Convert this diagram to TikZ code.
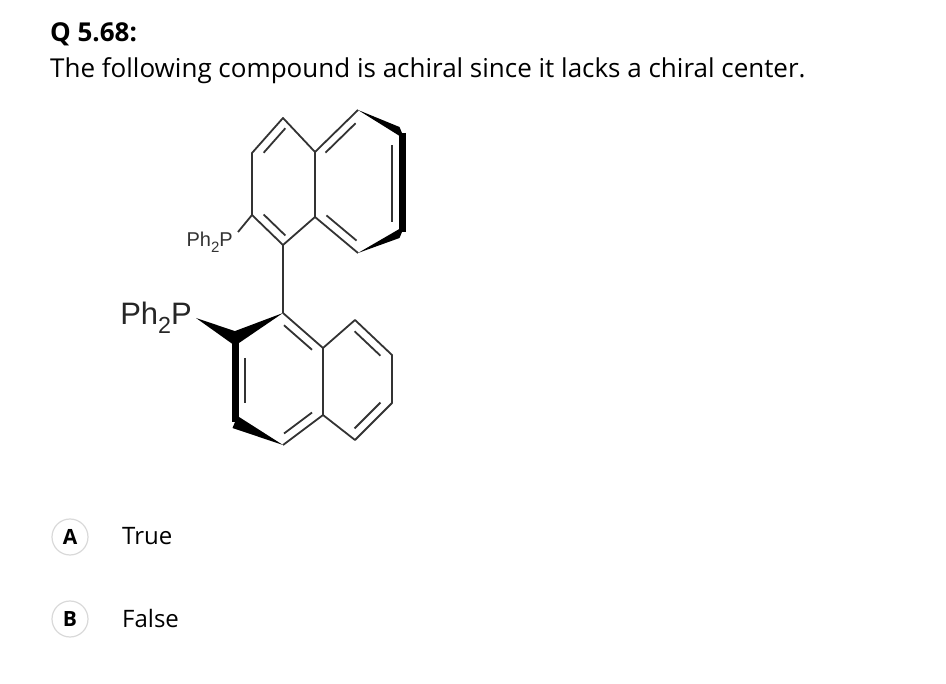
\documentclass[tikz,border=0pt]{standalone}
\usepackage{fontspec}
\usetikzlibrary{calc}
\setmainfont{Open Sans}
\newfontfamily\arialf{Liberation Sans}
\newcommand{\subtwo}{\raisebox{-0.3em}{\scalebox{0.75}{2}}}
\begin{document}
\begin{tikzpicture}[x=1pt,y=-1pt,
  bond/.style={line width=1.8pt,color=black!80,line join=round},
  boldb/.style={line width=7pt,line cap=butt},
  opt/.style={circle,draw=black!15,line width=1.2pt,minimum size=36pt,inner sep=0pt,font=\bfseries\fontsize{21}{24}\selectfont},
  lbl/.style={anchor=base west,inner sep=0pt}]
\useasboundingbox (0,0) rectangle (946,684);
\node[lbl,font=\bfseries\fontsize{26}{30}\selectfont] (q) at (50,42) {Q 5.68:};
\node[lbl,font=\fontsize{26}{30}\selectfont] (t) at (50,78) {The following compound is achiral since it lacks a chiral center.};
% top naphthalene
\coordinate (a1) at (283,118); \coordinate (a2) at (252,153); \coordinate (a3) at (252,215);
\coordinate (a4) at (283,245); \coordinate (a5) at (315,217); \coordinate (a6) at (315,152);
\coordinate (b1) at (358,110); \coordinate (b2) at (402,133); \coordinate (b3) at (402,232);
\coordinate (b4) at (358,253);
% bottom naphthalene
\coordinate (c1) at (283,313); \coordinate (c2) at (235,338); \coordinate (c3) at (235,422);
\coordinate (c4) at (283,445); \coordinate (c5) at (323,415); \coordinate (c6) at (323,348);
\coordinate (d1) at (355,320); \coordinate (d2) at (392,355); \coordinate (d3) at (392,403);
\coordinate (d4) at (355,440);
\coordinate (pb) at (196,318); \coordinate (ps) at (238,232);
% plain bonds
\draw[bond] (a1)--(a2)--(a3)--(a4)--(a5)--(a6)--cycle;
\draw[bond] (a6)--(b1); \draw[bond] (a5)--(b4);
\draw[bond] (a4)--(c1);
\draw[bond] (a3)--(ps);
\draw[bond] (c4)--(c5)--(c6)--(c1);
\draw[bond] (c6)--(d1)--(d2)--(d3)--(d4)--(c5);
% inner double lines
\draw[bond] ($(a2)!0.15!(a1)+(7,5)$) -- ($(a2)!0.85!(a1)+(7,5)$);
\draw[bond] ($(a3)!0.15!(a4)+(7,-5)$) -- ($(a3)!0.85!(a4)+(7,-5)$);
\draw[bond] ($(a6)!0.15!(b1)+(4,7)$) -- ($(a6)!0.85!(b1)+(4,7)$);
\draw[bond] (392,145) -- (392,222);
\draw[bond] ($(a5)!0.15!(b4)+(5,-7)$) -- ($(a5)!0.85!(b4)+(5,-7)$);
\draw[bond] ($(c1)!0.15!(c6)+(-5,7)$) -- ($(c1)!0.85!(c6)+(-5,7)$);
\draw[bond] (245,358) -- (245,403);
\draw[bond] ($(c4)!0.15!(c5)+(-5,-7)$) -- ($(c4)!0.85!(c5)+(-5,-7)$);
\draw[bond] ($(d1)!0.15!(d2)+(-6,6)$) -- ($(d1)!0.85!(d2)+(-6,6)$);
\draw[bond] ($(d4)!0.15!(d3)+(-6,-6)$) -- ($(d4)!0.85!(d3)+(-6,-6)$);
% wedges and bold bonds
\fill (b1) -- ($(b2)+(-2.5,-6)$) -- ($(b2)+(2.5,6)$) -- cycle;
\draw[boldb] (b2) -- (b3);
\fill (b4) -- ($(b3)+(2.5,-6)$) -- ($(b3)+(-2.5,6)$) -- cycle;
\fill (c1) -- ($(c2)+(-2.5,-6)$) -- ($(c2)+(2.5,6)$) -- cycle;
\draw[boldb] (c2) -- (c3);
\fill (c4) -- ($(c3)+(2.5,-6)$) -- ($(c3)+(-2.5,6)$) -- cycle;
\fill (pb) -- ($(c2)+(-2.5,6)$) -- ($(c2)+(2.5,-6)$) -- cycle;
% labels
\node[anchor=east,inner sep=1pt,font=\arialf\fontsize{20}{22}\selectfont,text=black!80] (l1) at (234,242) {Ph\subtwo P};
\node[anchor=east,inner sep=1pt,font=\arialf\fontsize{31}{34}\selectfont,text=black!85] (l2) at (193,318) {Ph\subtwo P};
% options
\node[opt] (oa) at (70,537) {A};
\node[lbl,font=\fontsize{24}{28}\selectfont] (ta) at (122,545) {True};
\node[opt] (ob) at (70,619) {B};
\node[lbl,font=\fontsize{24}{28}\selectfont] (tb) at (122,627) {False};
\end{tikzpicture}
\end{document}
